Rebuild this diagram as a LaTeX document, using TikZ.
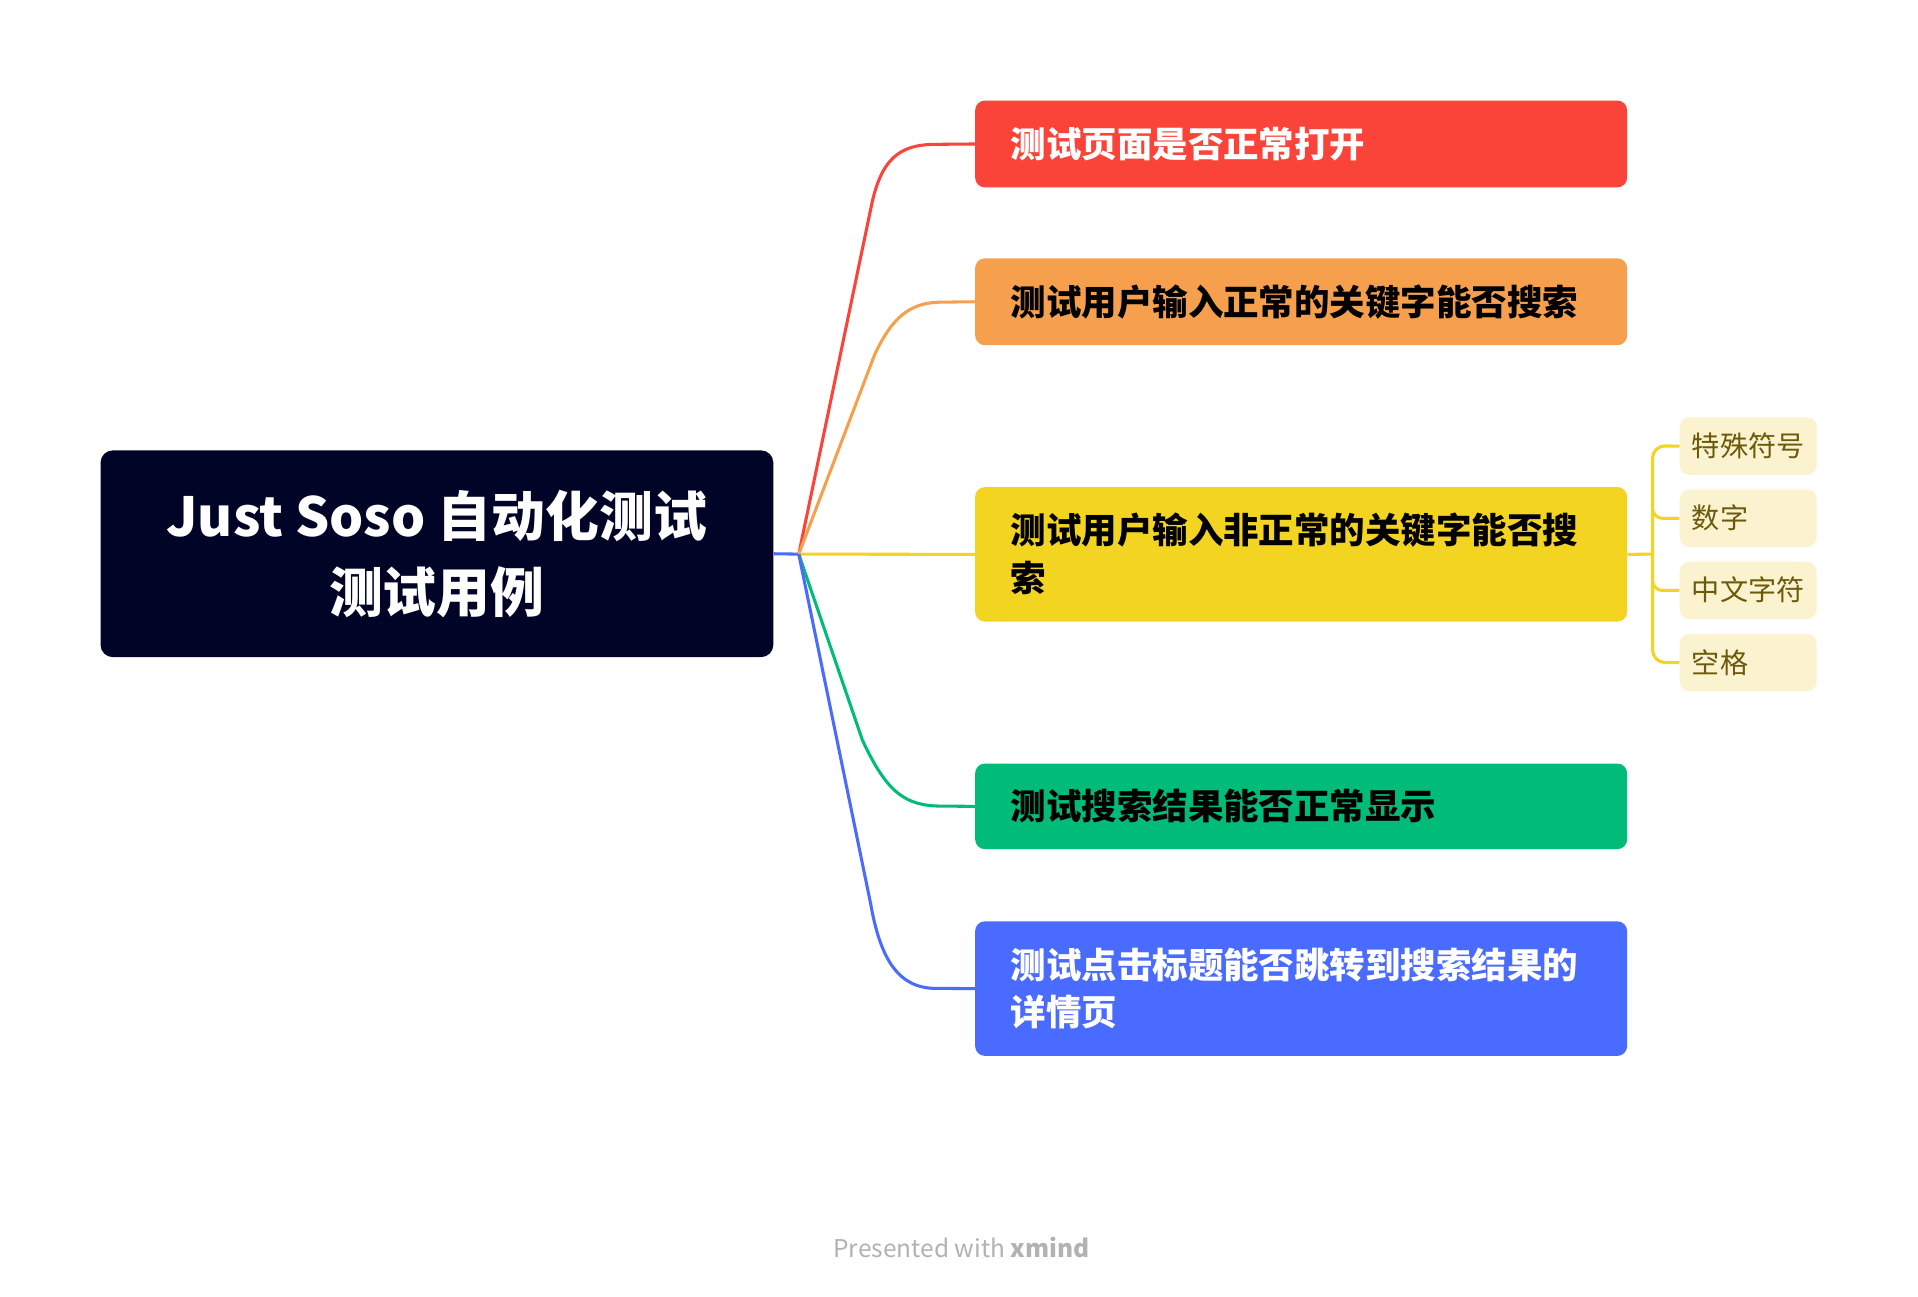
\documentclass[tikz,border=0pt]{standalone}
\usepackage{fontspec}
\setmainfont{Noto Sans CJK SC}
\begin{document}
\begin{tikzpicture}[x=1pt,y=-1pt,
  br/.style={rounded corners=8pt,minimum width=533pt,anchor=north west,inner sep=0pt},
  lbl/.style={anchor=west,font=\fontsize{29}{39}\selectfont\bfseries,align=left,text width=490pt,inner sep=0pt},
  sub/.style={fill=subbg,rounded corners=8pt,minimum width=112pt,minimum height=47pt,anchor=north west,inner sep=0pt},
  subt/.style={anchor=west,font=\fontsize{23}{26}\selectfont,text=subtx,inner sep=0pt},
  con/.style={line width=2.5pt}]
\definecolor{rootbg}{HTML}{000427}
\definecolor{cred}{HTML}{FA443A}
\definecolor{corange}{HTML}{F6A04D}
\definecolor{cyellow}{HTML}{F2D421}
\definecolor{cgreen}{HTML}{00BC78}
\definecolor{cblue}{HTML}{4A6BFF}
\definecolor{subbg}{HTML}{FBF3CF}
\definecolor{subtx}{HTML}{6B5A0A}
\useasboundingbox (0,0) rectangle (1568,1060);
\fill[white] (0,0) rectangle (1568,1060);
\node[fill=rootbg,rounded corners=10pt,minimum width=550pt,minimum height=169pt,anchor=north west] (root) at (82,368) {};
\node[text=white,font=\fontsize{44}{62}\selectfont\bfseries,align=center] at (357,453) {Just Soso 自动化测试\\测试用例};
\coordinate (hub) at (653,453);
\node[br,fill=cred,minimum height=71pt] (b1) at (797,82) {};
\node[br,fill=corange,minimum height=71pt] (b2) at (797,211) {};
\node[br,fill=cyellow,minimum height=110pt] (b3) at (797,398) {};
\node[br,fill=cgreen,minimum height=70pt] (b4) at (797,624) {};
\node[br,fill=cblue,minimum height=110pt] (b5) at (797,753) {};
\node[lbl,text=white] at (826,118) {测试页面是否正常打开};
\node[lbl,text=black] at (826,247) {测试用户输入正常的关键字能否搜索};
\node[lbl,text=black] at (826,453) {测试用户输入非正常的关键字能否搜\\索};
\node[lbl,text=black] at (826,659) {测试搜索结果能否正常显示};
\node[lbl,text=white] at (826,808) {测试点击标题能否跳转到搜索结果的\\详情页};
\draw[con,cblue] (root.east) -- (hub);
\draw[con,cred] (hub) -- (712,170) .. controls (720,130) and (735,118) .. (765,118) -- (b1.west);
\draw[con,corange] (hub) -- (715,290) .. controls (730,258) and (745,247) .. (770,247) -- (b2.west);
\draw[con,cyellow] (hub) -- (b3.west);
\draw[con,cgreen] (hub) -- (705,605) .. controls (725,648) and (740,659) .. (770,659) -- (b4.west);
\draw[con,cblue] (hub) -- (712,740) .. controls (720,785) and (735,808) .. (765,808) -- (b5.west);
\node[sub] (s1) at (1373,341) {};
\node[sub] (s2) at (1373,400) {};
\node[sub] (s3) at (1373,459) {};
\node[sub] (s4) at (1373,518) {};
\node[subt] at (1383,364.5) {特殊符号};
\node[subt] at (1383,423.5) {数字};
\node[subt] at (1383,482.5) {中文字符};
\node[subt] at (1383,541.5) {空格};
\coordinate (sh) at (1351,453);
\draw[con,cyellow] (b3.east) -- (sh);
\draw[con,cyellow,rounded corners=10pt] (s1.west) -- (1351,364.5) -- (1351,541.5) -- (s4.west);
\draw[con,cyellow,rounded corners=8pt] (1351,410) |- (s2.west);
\draw[con,cyellow,rounded corners=8pt] (1351,470) |- (s3.west);
\node[font=\fontsize{20}{24}\selectfont,text=black!30] (foot) at (786,1020) {Presented with \textbf{xmind}};
\end{tikzpicture}
\end{document}
